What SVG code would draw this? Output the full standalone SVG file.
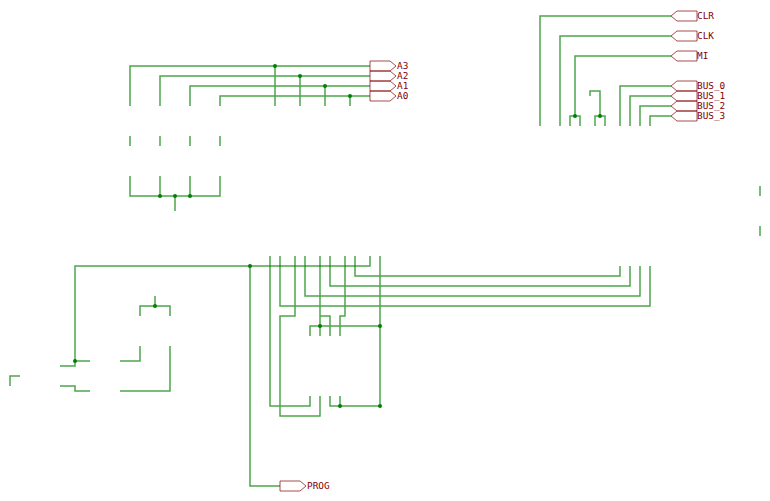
<svg xmlns="http://www.w3.org/2000/svg" width="770" height="501" viewBox="0 0 770 501">
<style>
.w{fill:none;stroke:#008000;stroke-width:1.5;stroke-opacity:.7}
.j{fill:#008000;stroke:none}
.p{fill:none;stroke:#840000;stroke-width:1;stroke-opacity:.7}
.t{fill:#840000;font-family:"DejaVu Sans Mono","Liberation Mono",monospace;font-size:9.4px}
</style>
<defs>
<circle id="dot" r="2" class="j"/>
</defs>
<rect width="770" height="501" fill="#fff"/>
<g id="connectors">
<path class="w" d="M130 106V66H370M160 106V76H370M190 106V86H370M220 106V96H370M275 66V106M300 76V106M325 86V106M350 96V106"/>
<path class="w" d="M130 136V146M160 136V146M190 136V146M220 136V146"/>
<path class="w" d="M130 176V196H220V176M160 176V196M190 176V196M175 196V211"/>
<path class="w" d="M540 126V16H671M560 126V36H671M575 116V56H671M570 126V116H580V126M595 126V116H605V126M600 116V91H590V96M620 126V86H671M630 126V96H671M640 126V106H671M650 126V116H671"/>
<path class="w" d="M760 186V196M760 226V236"/>
<path class="w" d="M75 361V266H370V256M250 266V486H280"/>
<path class="w" d="M270 256V406H310V396M280 256V306H650V266M295 256V316H280V416H320V396M305 256V296H640V266M320 256V336M320 316H330V336M330 256V286H630V266M345 256V316H340V336M355 256V276H620V266M380 256V406M310 336V326H380M330 396V406H380M340 396V406"/>
<path class="w" d="M75 361H90M75 361V366H60M60 386H75V391H90M120 361H140V346M120 391H170V346M140 316V306H170V316M155 296V306M10 386V376H20"/>
<use href="#dot" x="275" y="66"/><use href="#dot" x="300" y="76"/><use href="#dot" x="325" y="86"/><use href="#dot" x="350" y="96"/>
<use href="#dot" x="160" y="196"/><use href="#dot" x="175" y="196"/><use href="#dot" x="190" y="196"/>
<use href="#dot" x="575" y="116"/><use href="#dot" x="600" y="116"/>
<use href="#dot" x="250" y="266"/><use href="#dot" x="320" y="326"/><use href="#dot" x="380" y="326"/><use href="#dot" x="340" y="406"/><use href="#dot" x="380" y="406"/>
<use href="#dot" x="75" y="361"/><use href="#dot" x="155" y="306"/>
</g>
<g id="label-A3"><path class="p" d="M370 61H390L396 66L390 71H370Z"/><text class="t" x="397" y="69">A3</text></g>
<g id="label-A2"><path class="p" d="M370 71H390L396 76L390 81H370Z"/><text class="t" x="397" y="79">A2</text></g>
<g id="label-A1"><path class="p" d="M370 81H390L396 86L390 91H370Z"/><text class="t" x="397" y="89">A1</text></g>
<g id="label-A0"><path class="p" d="M370 91H390L396 96L390 101H370Z"/><text class="t" x="397" y="99">A0</text></g>
<g id="label-CLR"><path class="p" d="M671 16L677 11H697V21H677Z"/><text class="t" x="697" y="19">CLR</text></g>
<g id="label-CLK"><path class="p" d="M671 36L677 31H697V41H677Z"/><text class="t" x="697" y="39">CLK</text></g>
<g id="label-MI"><path class="p" d="M671 56L677 51H697V61H677Z"/><text class="t" x="697" y="59">MI</text></g>
<g id="label-BUS_0"><path class="p" d="M671 86L677 81H697V91H677Z"/><text class="t" x="697" y="89">BUS_0</text></g>
<g id="label-BUS_1"><path class="p" d="M671 96L677 91H697V101H677Z"/><text class="t" x="697" y="99">BUS_1</text></g>
<g id="label-BUS_2"><path class="p" d="M671 106L677 101H697V111H677Z"/><text class="t" x="697" y="109">BUS_2</text></g>
<g id="label-BUS_3"><path class="p" d="M671 116L677 111H697V121H677Z"/><text class="t" x="697" y="119">BUS_3</text></g>
<g id="label-PROG"><path class="p" d="M280 481H300L306 486L300 491H280Z"/><text class="t" x="307" y="489">PROG</text></g>
</svg>
